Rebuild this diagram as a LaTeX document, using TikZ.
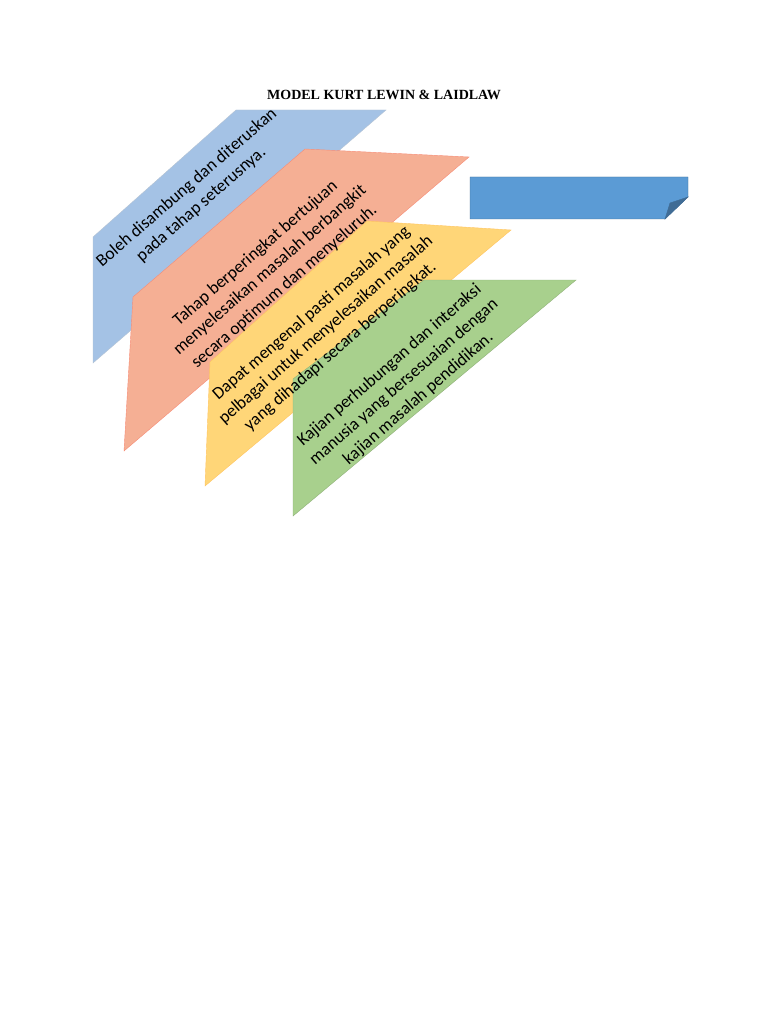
\documentclass[tikz,border=0pt]{standalone}
\usepackage{fontspec}
\setmainfont{Carlito}
\newfontfamily\titlefont{Liberation Serif}
\begin{document}
\begin{tikzpicture}[x=1pt,y=-1pt,
  lbl/.style={rotate=41,align=center,font=\fontsize{17.5}{22}\selectfont,inner sep=0pt}]
\useasboundingbox (0,0) rectangle (768,1024);
\fill[white] (0,0) rectangle (768,1024);
\definecolor{cblue}{RGB}{164,194,229}
\definecolor{csal}{RGB}{245,175,148}
\definecolor{cyel}{RGB}{255,214,120}
\definecolor{cgrn}{RGB}{168,208,141}
\definecolor{cbox}{RGB}{91,155,213}
\node[font=\titlefont\bfseries\fontsize{14}{16}\selectfont] (title) at (384,95) {MODEL KURT LEWIN \& LAIDLAW};
\filldraw[fill=cblue,draw=cblue!80!black!60] (236,110) -- (386,110) -- (93,363) -- (93,237) -- cycle;
\filldraw[fill=csal,draw=csal!80!red] (305,149) -- (469,157) -- (124,451) -- (133,297) -- cycle;
\filldraw[fill=cyel,draw=cyel!80!orange] (367,221) -- (511,230) -- (205,486) -- (210,362) -- cycle;
\filldraw[fill=cgrn,draw=cgrn!85!black] (424,280) -- (576,280) -- (293,516) -- (293,379) -- cycle;
\filldraw[fill=cbox,draw=cbox!70!black] (470,177) -- (688,177) -- (688,197) -- (665,219) -- (470,219) -- cycle;
\filldraw[fill=cbox!70!black,draw=cbox!70!black] (688,197) -- (670,203) -- (665,219) -- cycle;
\node[lbl] (t1) at (194,196) {Boleh disambung dan diteruskan\\pada tahap seterusnya.};
\node[lbl] (t2) at (270,270) {Tahap berperingkat bertujuan\\menyelesaikan masalah berbangkit\\secara optimum dan menyeluruh.};
\node[lbl] (t3) at (326,330) {Dapat mengenal pasti masalah yang\\pelbagai untuk menyelesaikan masalah\\yang dihadapi secara berperingkat.};
\node[lbl] (t4) at (404,382) {Kajian perhubungan dan interaksi\\manusia yang bersesuaian dengan\\kajian masalah pendidikan.};
\end{tikzpicture}
\end{document}
